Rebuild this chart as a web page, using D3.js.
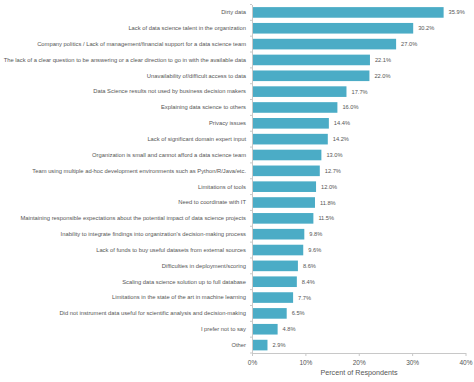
<!DOCTYPE html>
<html><head><meta charset="utf-8">
<script src="https://cdn.jsdelivr.net/npm/d3@7"></script>
<style>body{margin:0;background:#fff;} svg{display:block;}</style>
</head><body>
<svg id="c" width="474" height="382"></svg>
<script>
const categories = [
"Dirty data",
"Lack of data science talent in the organization",
"Company politics / Lack of management/financial support for a data science team",
"The lack of a clear question to be answering or a clear direction to go in with the available data",
"Unavailability of/difficult access to data",
"Data Science results not used by business decision makers",
"Explaining data science to others",
"Privacy issues",
"Lack of significant domain expert input",
"Organization is small and cannot afford a data science team",
"Team using multiple ad-hoc development environments  such as Python/R/Java/etc.",
"Limitations of tools",
"Need to coordinate with IT",
"Maintaining responsible expectations about  the potential impact of data science projects",
"Inability to integrate findings into organization's decision-making process",
"Lack of funds to buy useful datasets from external sources",
"Difficulties in deployment/scoring",
"Scaling data science solution up to full database",
"Limitations in the state of the art in machine learning",
"Did not  instrument data useful for scientific analysis and decision-making",
"I prefer not to say",
"Other"];
const values = [35.9,30.2,27.0,22.1,22.0,17.7,16.0,14.4,14.2,13.0,12.7,12.0,11.8,11.5,9.8,9.6,8.6,8.4,7.7,6.5,4.8,2.9];
const xTicks = [0,10,20,30,40];
const xTitle = "Percent of Respondents";

const svg = d3.select("#c");
const x = d3.scaleLinear().domain([0,40]).range([252,465.5]);
const y = d3.scaleBand().domain(categories).range([4.5,353]).paddingInner(0.33).paddingOuter(0.165);
const txt = "#555";
const font = "'Liberation Sans', Arial, sans-serif";

svg.append("g").selectAll("rect").data(values).join("rect")
  .attr("x", x(0)).attr("y",(d,i)=>y(categories[i]))
  .attr("width", d=>x(d)-x(0)).attr("height", y.bandwidth())
  .attr("fill","#4BACC6");

svg.append("g").selectAll("text").data(values).join("text")
  .attr("x", d=>x(d)+5).attr("y",(d,i)=>y(categories[i])+y.bandwidth()/2)
  .attr("dy","0.35em").attr("font-size","5.7px").attr("font-family",font).attr("fill",txt)
  .text(d=>d.toFixed(1)+"%");

// y axis
const ya = svg.append("g").attr("transform",`translate(${x(0)},0)`)
  .call(d3.axisLeft(y).tickSize(0).tickPadding(6));
ya.select(".domain").attr("stroke","#c8c8c8");
ya.selectAll("text").attr("font-size","5.8px").attr("font-family",font).attr("fill",txt);
// small separator ticks between categories
ya.append("g").selectAll("line").data(d3.range(categories.length+1)).join("line")
  .attr("x1",-2).attr("x2",0)
  .attr("y1",i=>4.5+i*y.step()).attr("y2",i=>4.5+i*y.step())
  .attr("stroke","#c8c8c8");

// x axis
const xa = svg.append("g").attr("transform",`translate(0,353)`)
  .call(d3.axisBottom(x).tickValues(xTicks).tickFormat(d=>d+"%").tickSize(3).tickPadding(4).tickSizeOuter(0));
xa.select(".domain").attr("stroke","#c8c8c8");
xa.selectAll("line").attr("stroke","#c8c8c8");
xa.selectAll("text").attr("font-size","6.5px").attr("font-family",font).attr("fill",txt);

svg.append("text").attr("x",359).attr("y",375).attr("text-anchor","middle")
  .attr("font-size","7.2px").attr("font-family",font).attr("fill",txt).text(xTitle);
</script>
</body></html>
